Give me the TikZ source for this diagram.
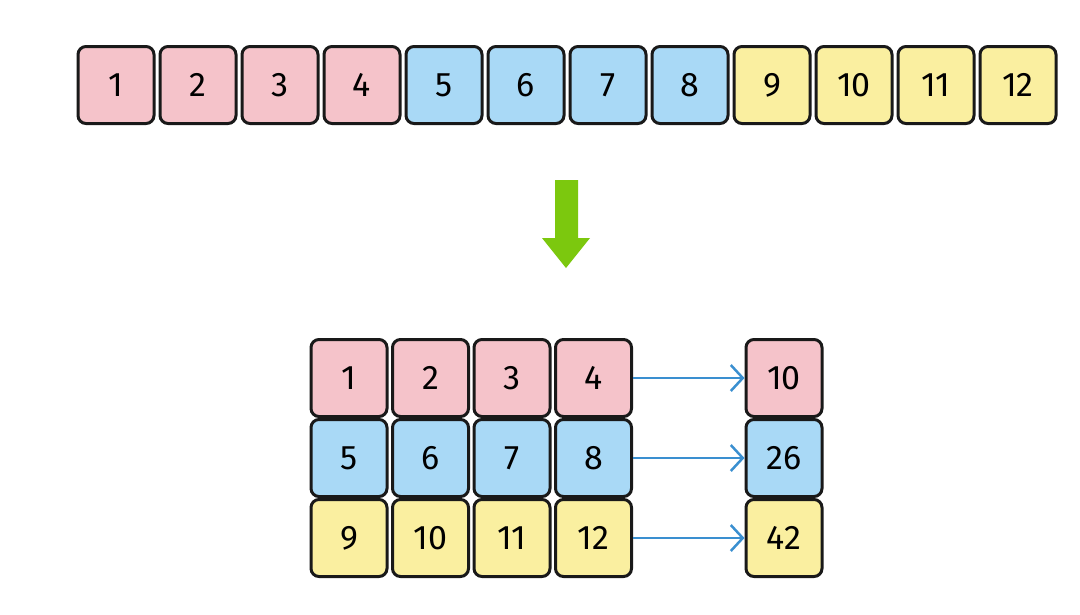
\documentclass[tikz,border=0pt]{standalone}
\usepackage{fontspec}
\setmainfont{Fira Sans}
\usetikzlibrary{arrows.meta}
\definecolor{pk}{HTML}{F5C3CA}
\definecolor{bl}{HTML}{A9D9F6}
\definecolor{yl}{HTML}{FAEFA0}
\definecolor{gr}{HTML}{7CC80E}
\definecolor{ar}{HTML}{3A8FD0}
\begin{document}
\begin{tikzpicture}[x=1pt,y=-1pt,
  cell/.style={draw=black!90,line width=3pt,rounded corners=8pt,minimum width=76pt,minimum height=77pt,inner sep=0pt,font=\fontsize{34}{34}\selectfont},
  conn/.style={draw=ar,line width=2.5pt,-{Straight Barb[length=12pt,width=26pt,line width=2.5pt]}}]
\useasboundingbox (0,0) rectangle (1080,614);
\fill[white] (0,0) rectangle (1080,614);
\foreach \i in {1,...,12}{
  \pgfmathtruncatemacro\c{int((\i-1)/4)}
  \ifcase\c \def\col{pk}\or \def\col{bl}\or \def\col{yl}\fi
  \node[cell,fill=\col] (t\i) at ({78+38+82*(\i-1)},85) {\i};
}
\fill[gr] (555,180) -- (578,180) -- (578,238) -- (590,238) -- (566,268) -- (542,238) -- (555,238) -- cycle;
\foreach \r/\col in {0/pk,1/bl,2/yl}{
  \foreach \j in {1,...,4}{
    \pgfmathtruncatemacro\n{\r*4+\j}
    \node[cell,fill=\col] (g\n) at ({349+81.5*(\j-1)},{378+80*\r}) {\n};
  }
}
\node[cell,fill=pk] (s1) at (784,378) {10};
\node[cell,fill=bl] (s2) at (784,458) {26};
\node[cell,fill=yl] (s3) at (784,538) {42};
\draw[conn] (g4) -- (s1);
\draw[conn] (g8) -- (s2);
\draw[conn] (g12) -- (s3);
\end{tikzpicture}
\end{document}
